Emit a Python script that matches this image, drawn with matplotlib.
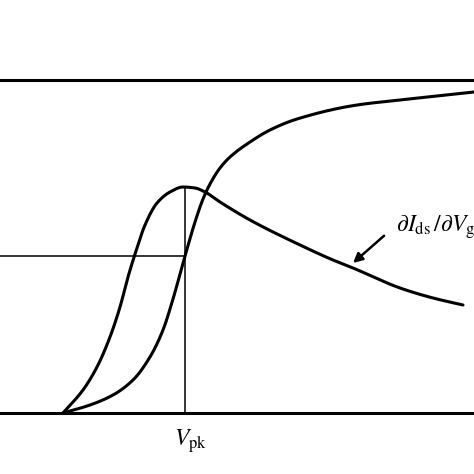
import numpy as np
import matplotlib
matplotlib.use("Agg")
import matplotlib.pyplot as plt

plt.rcParams['mathtext.fontset'] = 'stix'

# Gate voltage (arbitrary units) and curve values
gm_v = [63, 83, 97, 110, 120, 128, 136, 145, 157, 170, 183, 195, 205, 220, 250, 300, 333, 353, 400, 433, 463]
gm_y = [0, 23, 46, 76, 106, 136, 162, 188, 210, 221, 226, 225, 221, 211, 193, 168, 153, 145, 125, 115, 108]

ids_v = [63, 90, 113, 133, 150, 163, 173, 185, 195, 203, 210, 220, 230, 250, 270, 297, 357, 400, 474]
ids_y = [0, 8, 18, 33, 56, 83, 114, 157, 191, 214, 229, 245, 256, 271, 283, 294, 308, 313, 321]

v_pk = 185
gm_peak = 226
ids_at_pk = 157
y_top = 333
x_max = 474


def pchip(x, y, n=600):
    x = np.asarray(x, float)
    y = np.asarray(y, float)
    h = np.diff(x)
    d = np.diff(y) / h
    m = np.zeros_like(y)
    for k in range(1, len(x) - 1):
        if d[k - 1] * d[k] <= 0:
            m[k] = 0
        else:
            w1 = 2 * h[k] + h[k - 1]
            w2 = h[k] + 2 * h[k - 1]
            m[k] = (w1 + w2) / (w1 / d[k - 1] + w2 / d[k])
    m[0] = d[0]
    m[-1] = d[-1]
    xs = np.linspace(x[0], x[-1], n)
    idx = np.clip(np.searchsorted(x, xs) - 1, 0, len(h) - 1)
    t = (xs - x[idx]) / h[idx]
    h00 = 2 * t**3 - 3 * t**2 + 1
    h10 = t**3 - 2 * t**2 + t
    h01 = -2 * t**3 + 3 * t**2
    h11 = t**3 - t**2
    ys = h00 * y[idx] + h10 * h[idx] * m[idx] + h01 * y[idx + 1] + h11 * h[idx] * m[idx + 1]
    return xs, ys


fig = plt.figure(figsize=(4.74, 4.74), dpi=100)
ax = fig.add_axes([0, 61 / 474, 1, 333 / 474])
ax.set_xlim(0, x_max)
ax.set_ylim(0, y_top)
for s in ['left', 'right']:
    ax.spines[s].set_visible(False)
for s in ['top', 'bottom']:
    ax.spines[s].set_linewidth(2.2)
ax.set_xticks([])
ax.set_yticks([])

gx, gy = pchip(gm_v, gm_y)
ix, iy = pchip(ids_v, ids_y)
ax.plot(gx, gy, color='black', lw=2.2, solid_capstyle='round')
ax.plot(ix, iy, color='black', lw=2.2, solid_capstyle='round')

ax.plot([v_pk, v_pk], [0, gm_peak], color='black', lw=1.1)
ax.plot([0, v_pk], [ids_at_pk, ids_at_pk], color='black', lw=1.1)

ax.annotate(r'$\partial I_{\mathrm{ds}}\,/\partial V_{\mathrm{g}}$',
            xy=(353, 150), xytext=(396, 181), fontsize=17,
            ha='left', va='baseline', annotation_clip=False,
            arrowprops=dict(arrowstyle='-|>', color='black', lw=1.8,
                            shrinkA=0, shrinkB=0, mutation_scale=14,
                            relpos=(-0.15, 0.2)))

ax.text(v_pk + 6, -14, r'$V_{\mathrm{pk}}$', fontsize=17, ha='center',
        va='top', clip_on=False)

fig.savefig('out.png', dpi=100)
